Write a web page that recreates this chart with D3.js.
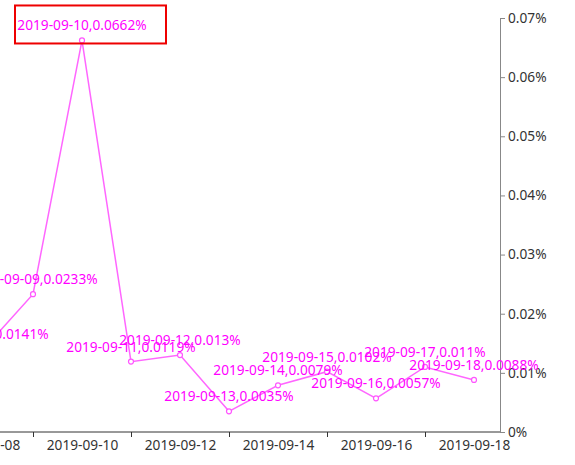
<!DOCTYPE html>
<html>
<head>
<meta charset="utf-8">
<script src="https://cdn.jsdelivr.net/npm/d3@7"></script>
<style>
  body { margin: 0; background: #fff; }
  text { font-family: "Noto Sans", sans-serif; }
</style>
</head>
<body>
<svg width="575" height="465"></svg>
<script>
const dates = ["2019-09-08", "2019-09-09", "2019-09-10", "2019-09-11", "2019-09-12", "2019-09-13",
               "2019-09-14", "2019-09-15", "2019-09-16", "2019-09-17", "2019-09-18"];
const rates = [0.0141, 0.0233, 0.0662, 0.0119, 0.013, 0.0035, 0.0079, 0.0102, 0.0057, 0.011, 0.0088];
const yTicks = [0, 0.01, 0.02, 0.03, 0.04, 0.05, 0.06, 0.07];
const highlightDate = "2019-09-10";

const svg = d3.select("svg");

const axisX = 500;
const fontSize = "13.7px";
const x = d3.scalePoint().domain(dates).range([-16, 474]);
const y = d3.scaleLinear().domain([0, 0.07]).range([432, 18]);

const fmt = v => v === 0 ? "0%" : v.toFixed(2) + "%";

// Right value axis
const yAxis = svg.append("g")
    .attr("transform", `translate(${axisX},0)`)
    .call(d3.axisRight(y).tickValues(yTicks).tickFormat(fmt).tickSize(5).tickPadding(3));
yAxis.select(".domain").attr("stroke", "#888");
yAxis.selectAll(".tick line").attr("stroke", "#888");
yAxis.selectAll(".tick text").attr("fill", "#333").style("font-size", fontSize);

// Category axis: ticks on odd days, labels on even days
const oddDays = dates.filter((d, i) => i % 2 === 1);
const evenDays = dates.filter((d, i) => i % 2 === 0);

svg.append("line")
    .attr("x1", 0).attr("x2", axisX)
    .attr("y1", y(0)).attr("y2", y(0))
    .attr("stroke", "#333");

const xTicks = svg.append("g")
    .attr("transform", `translate(0,${y(0)})`)
    .call(d3.axisBottom(x).tickValues(oddDays).tickFormat("").tickSize(5));
xTicks.select(".domain").remove();
xTicks.selectAll(".tick line").attr("stroke", "#333");

const xLabels = svg.append("g")
    .attr("transform", `translate(0,${y(0)})`)
    .call(d3.axisBottom(x).tickValues(evenDays).tickSize(0).tickPadding(8));
xLabels.select(".domain").remove();
xLabels.selectAll(".tick text").attr("fill", "#333").style("font-size", fontSize);

// Line
const line = d3.line()
    .x((d, i) => x(dates[i]))
    .y(d => y(d));

svg.append("path")
    .datum(rates)
    .attr("fill", "none")
    .attr("stroke", "#ff66ff")
    .attr("stroke-width", 1.5)
    .attr("d", line);

// Points
svg.selectAll("circle.pt")
    .data(rates)
    .join("circle")
    .attr("class", "pt")
    .attr("cx", (d, i) => x(dates[i]))
    .attr("cy", d => y(d))
    .attr("r", 2.5)
    .attr("fill", "#fff")
    .attr("stroke", "#ff55ff")
    .attr("stroke-width", 1.2);

// Labels
svg.selectAll("text.lbl")
    .data(rates)
    .join("text")
    .attr("class", "lbl")
    .attr("x", (d, i) => x(dates[i]))
    .attr("y", d => y(d) - 10)
    .attr("text-anchor", "middle")
    .attr("fill", "#ff00ff")
    .style("font-size", fontSize)
    .text((d, i) => dates[i] + "," + d + "%");

// Highlight box around the peak
const hi = dates.indexOf(highlightDate);
const hx = x(highlightDate), hy = y(rates[hi]);
svg.append("rect")
    .attr("x", hx - 67)
    .attr("y", hy - 35)
    .attr("width", 151)
    .attr("height", 38)
    .attr("fill", "none")
    .attr("stroke", "#ee0000")
    .attr("stroke-width", 2);
</script>
</body>
</html>
